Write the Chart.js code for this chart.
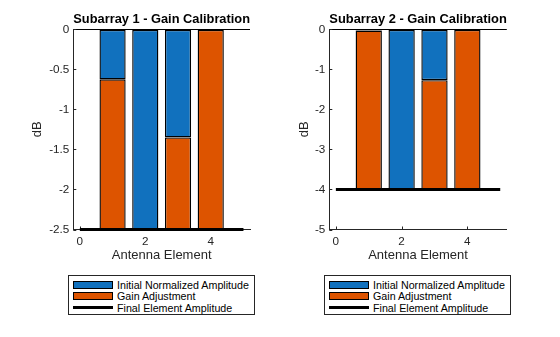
<!DOCTYPE html>
<html><head><meta charset="utf-8">
<script src="https://cdn.jsdelivr.net/npm/chart.js@4"></script>
<style>
html,body{margin:0;padding:0;background:#fff}
body{width:560px;height:337px;position:relative;overflow:hidden;font-family:"Liberation Sans",Arial,sans-serif}
canvas{position:absolute;top:0}
.legend{position:absolute;top:275px;width:187px;height:40px;border:1px solid #262626;background:#fff;box-sizing:border-box;color:#000;font-size:10.7px}
.row{position:absolute;left:0;right:0;height:12px}
.sw{position:absolute;left:3.5px;top:2px;width:40px;height:8px;box-sizing:border-box;border:1px solid #000}
.ln{position:absolute;left:3.5px;top:4.5px;width:40px;height:3px;background:#000}
.tx{position:absolute;left:48px;top:0;line-height:12px;white-space:nowrap}
</style>
</head><body>
<canvas id="c1" width="280" height="270" style="left:0"></canvas>
<canvas id="c2" width="280" height="270" style="left:280px"></canvas>
<div class="legend" id="lg1" style="left:68px"></div>
<div class="legend" id="lg2" style="left:324px"></div>
<script>
// ---- data ----
const elements = [1, 2, 3, 4];
const xTicks = [0, 2, 4];
const xRange = [-0.2, 5.2];
const finalSpan = [0, 5];
const seriesNames = ['Initial Normalized Amplitude', 'Gain Adjustment', 'Final Element Amplitude'];

const sub1Title = 'Subarray 1 - Gain Calibration';
const sub1Initial = [-0.625, -2.5, -1.35, 0];
const sub1Gain = [-1.875, 0, -1.15, -2.5];
const sub1Final = -2.5;
const sub1YTicks = [-2.5, -2, -1.5, -1, -0.5, 0];

const sub2Title = 'Subarray 2 - Gain Calibration';
const sub2Initial = [-0.03, -4, -1.27, 0];
const sub2Gain = [-3.97, 0, -2.73, -4];
const sub2Final = -4;
const sub2YTicks = [-5, -4, -3, -2, -1, 0];

// ---- style ----
const BLUE = '#1171BE', ORANGE = '#DD5400', AXIS = '#262626';
const FAM = '"Liberation Sans", Arial, sans-serif';

const innerTicks = {
  id: 'innerTicks',
  beforeDatasetsDraw(chart) {
    const {ctx, chartArea: a, scales: {x, y}} = chart;
    ctx.save();
    ctx.strokeStyle = AXIS; ctx.lineWidth = 1;
    ctx.beginPath();
    y.ticks.forEach(t => { const p = Math.round(y.getPixelForValue(t.value)) + 0.5; ctx.moveTo(a.left, p); ctx.lineTo(a.left + 3, p); });
    x.ticks.forEach(t => { const p = Math.round(x.getPixelForValue(t.value)) + 0.5; ctx.moveTo(p, a.bottom); ctx.lineTo(p, a.bottom - 3); });
    ctx.stroke();
    ctx.restore();
  }
};

function makeChart(id, o) {
  const bars = (vals, color, name, ord) => ({
    type: 'bar', label: name, order: ord, stack: 'bars',
    data: elements.map((e, i) => ({x: e, y: vals[i]})),
    backgroundColor: color, borderColor: '#000', borderWidth: 1.4, borderSkipped: false, inflateAmount: 0,
    barPercentage: 0.8, categoryPercentage: 1.0
  });
  return new Chart(document.getElementById(id), {
    type: 'bar',
    data: {
      datasets: [
        {type: 'line', label: seriesNames[2], order: 0, stack: 'line', clip: false,
         data: finalSpan.map(v => ({x: v, y: o.final})),
         borderColor: '#000', borderWidth: 3, pointRadius: 0, fill: false, tension: 0, borderCapStyle: 'butt'},
        bars(o.initial, BLUE, seriesNames[0], 1),
        bars(o.gain, ORANGE, seriesNames[1], 2)
      ]
    },
    options: {
      responsive: false, animation: false, devicePixelRatio: 1,
      layout: {padding: {left: 0, top: 0, right: o.padRight, bottom: 0}},
      plugins: {
        legend: {display: false}, tooltip: {enabled: false},
        title: {display: true, text: o.title, fullSize: false, color: '#000',
                font: {family: FAM, size: 13, weight: 'bold'}, padding: {top: 11.7, bottom: 2}}
      },
      scales: {
        x: {
          type: 'linear', stacked: true, offset: false, min: xRange[0], max: xRange[1],
          afterBuildTicks: s => { s.ticks = xTicks.map(v => ({value: v})); },
          afterFit: s => { s.height = 40.5; },
          ticks: {callback: v => String(v), padding: 5, autoSkip: false, maxRotation: 0, color: AXIS, font: {family: FAM, size: 11.7}},
          grid: {drawOnChartArea: false, drawTicks: false, offset: false},
          border: {color: AXIS, width: 1},
          title: {display: true, text: 'Antenna Element', color: AXIS, font: {family: FAM, size: 13}, padding: {top: 0, bottom: 6.7}}
        },
        y: {
          stacked: true, min: o.yTicks[0], max: o.yTicks[o.yTicks.length - 1],
          afterBuildTicks: s => { s.ticks = o.yTicks.map(v => ({value: v})); },
          afterFit: s => { s.width = o.yWidth; },
          ticks: {callback: v => String(v), padding: 4, color: AXIS, font: {family: FAM, size: 11.7}},
          grid: {drawTicks: false, lineWidth: 1, color: c => (c.tick && c.tick.value === 0) ? '#000' : 'rgba(0,0,0,0)'},
          border: {color: AXIS, width: 1},
          title: {display: true, text: 'dB', color: AXIS, font: {family: FAM, size: 13}, padding: {top: o.yTitlePad, bottom: 0}}
        }
      }
    },
    plugins: [innerTicks]
  });
}

makeChart('c1', {title: sub1Title, initial: sub1Initial, gain: sub1Gain, final: sub1Final, yTicks: sub1YTicks, yWidth: 73.3, yTitlePad: 29.2, padRight: 30});
makeChart('c2', {title: sub2Title, initial: sub2Initial, gain: sub2Gain, final: sub2Final, yTicks: sub2YTicks, yWidth: 49.3, yTitlePad: 16.2, padRight: 53.2});

function buildLegend(id) {
  const box = document.getElementById(id);
  const items = [{k: 'sw', c: BLUE}, {k: 'sw', c: ORANGE}, {k: 'ln', c: '#000'}];
  const tops = [2.5, 14, 25.5];
  items.forEach((it, i) => {
    const r = document.createElement('div'); r.className = 'row'; r.style.top = tops[i] + 'px';
    const s = document.createElement('div'); s.className = it.k; s.style.background = it.c;
    const t = document.createElement('div'); t.className = 'tx'; t.textContent = seriesNames[i];
    r.appendChild(s); r.appendChild(t); box.appendChild(r);
  });
}
buildLegend('lg1'); buildLegend('lg2');
</script>
</body></html>
